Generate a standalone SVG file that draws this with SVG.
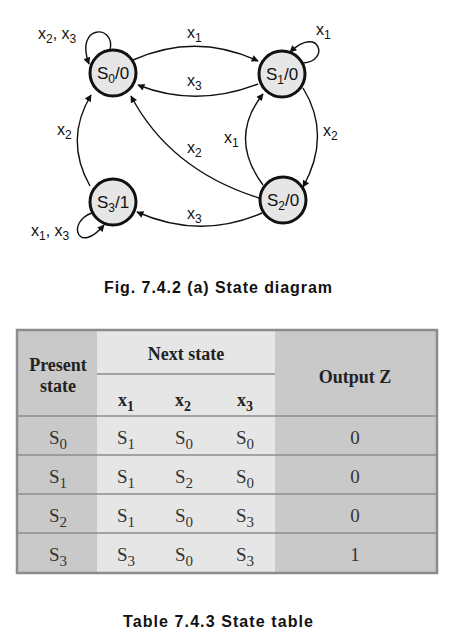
<svg xmlns="http://www.w3.org/2000/svg" width="458" height="640" viewBox="0 0 458 640">
<style>
.node{fill:#e6e6e6;stroke:#111;stroke-width:3}
.nl{font-family:"Liberation Sans",Arial,sans-serif;font-size:17px;fill:#111;text-anchor:middle}
.el{font-family:"Liberation Sans",Arial,sans-serif;font-size:16px;fill:#111}
.edge{fill:none;stroke:#111;stroke-width:1.4;marker-end:url(#ah)}
.cap{font-family:"Liberation Sans",Arial,sans-serif;font-size:16px;font-weight:bold;fill:#111;text-anchor:middle}
.th{font-family:"Liberation Serif","Times New Roman",serif;font-size:18px;font-weight:bold;fill:#222;text-anchor:middle}
.td{font-family:"Liberation Serif","Times New Roman",serif;font-size:19px;fill:#333;text-anchor:middle}
.dk{fill:#c9c9c9}
.lt{fill:#e6e6e6}
.ln{stroke:#8c8c8c;stroke-width:1.5}
</style>
<defs>
<marker id="ah" viewBox="0 0 10 10" refX="9" refY="5" markerWidth="9" markerHeight="7" markerUnits="userSpaceOnUse" orient="auto"><path d="M0,0 L10,5 L0,10 z" fill="#111"/></marker>
</defs>
<rect width="458" height="640" fill="#fff"/>
<g id="connectors">
<path class="edge" d="M133,60 Q196,32 258,61"/>
<path class="edge" d="M258,84 Q196,108 138,85"/>
<path class="edge" d="M110,50 C116,24 74,24 89,64"/>
<path class="edge" d="M303,63 C330,62 320,24 290,52"/>
<path class="edge" d="M303,88 Q332,135 303,187"/>
<path class="edge" d="M263,185 Q228,138 263,94"/>
<path class="edge" d="M259,198 Q170,170 131,96"/>
<path class="edge" d="M262,213 Q200,240 137,212"/>
<path class="edge" d="M90,186 Q64,140 91,95"/>
<path class="edge" d="M92,213 C66,222 78,256 104,225"/>
<text class="el" x="38" y="39">x<tspan font-size="12" dy="4">2</tspan><tspan dy="-4">, x</tspan><tspan font-size="12" dy="4">3</tspan></text>
<text class="el" x="187" y="38">x<tspan font-size="12" dy="4">1</tspan></text>
<text class="el" x="187" y="86">x<tspan font-size="12" dy="4">3</tspan></text>
<text class="el" x="316" y="35">x<tspan font-size="12" dy="4">1</tspan></text>
<text class="el" x="57" y="135">x<tspan font-size="12" dy="4">2</tspan></text>
<text class="el" x="187" y="153">x<tspan font-size="12" dy="4">2</tspan></text>
<text class="el" x="224" y="143">x<tspan font-size="12" dy="4">1</tspan></text>
<text class="el" x="323" y="136">x<tspan font-size="12" dy="4">2</tspan></text>
<text class="el" x="187" y="219">x<tspan font-size="12" dy="4">3</tspan></text>
<text class="el" x="31" y="236">x<tspan font-size="12" dy="4">1</tspan><tspan dy="-4">, x</tspan><tspan font-size="12" dy="4">3</tspan></text>
</g>
<g id="S0"><circle class="node" cx="113" cy="73" r="23"/><text class="nl" x="113" y="79">S<tspan font-size="12" dy="4">0</tspan><tspan dy="-4">/0</tspan></text></g>
<g id="S1"><circle class="node" cx="282" cy="74" r="23"/><text class="nl" x="282" y="80">S<tspan font-size="12" dy="4">1</tspan><tspan dy="-4">/0</tspan></text></g>
<g id="S2"><circle class="node" cx="283" cy="200" r="23"/><text class="nl" x="283" y="206">S<tspan font-size="12" dy="4">2</tspan><tspan dy="-4">/0</tspan></text></g>
<g id="S3"><circle class="node" cx="113" cy="202" r="23"/><text class="nl" x="113" y="208">S<tspan font-size="12" dy="4">3</tspan><tspan dy="-4">/1</tspan></text></g>
<text class="cap" x="218" y="293" textLength="228" lengthAdjust="spacing">Fig. 7.4.2 (a) State diagram</text>
<g id="table">
<rect class="dk" x="17" y="330" width="80" height="243"/>
<rect class="lt" x="97" y="330" width="178" height="243"/>
<rect class="dk" x="275" y="330" width="162" height="243"/>
<line class="ln" x1="97" y1="374" x2="275" y2="374"/>
<line class="ln" x1="17" y1="416" x2="437" y2="416"/>
<line class="ln" x1="17" y1="455" x2="437" y2="455"/>
<line class="ln" x1="17" y1="494" x2="437" y2="494"/>
<line class="ln" x1="17" y1="533" x2="437" y2="533"/>
<rect x="17" y="330" width="420" height="243" fill="none" stroke="#8c8c8c" stroke-width="2.5"/>
<text class="th" x="58" y="371" font-size="17">Present</text>
<text class="th" x="58" y="392" font-size="17">state</text>
<text class="th" x="186" y="360">Next state</text>
<text class="th" x="355" y="383">Output Z</text>
<text class="th" x="126" y="406">x<tspan font-size="14" dy="5">1</tspan></text>
<text class="th" x="183" y="406">x<tspan font-size="14" dy="5">2</tspan></text>
<text class="th" x="245" y="406">x<tspan font-size="14" dy="5">3</tspan></text>
<text class="td" x="58" y="444">S<tspan font-size="15" dy="5">0</tspan></text>
<text class="td" x="126" y="444">S<tspan font-size="15" dy="5">1</tspan></text>
<text class="td" x="184" y="444">S<tspan font-size="15" dy="5">0</tspan></text>
<text class="td" x="245" y="444">S<tspan font-size="15" dy="5">0</tspan></text>
<text class="td" x="355" y="444">0</text>
<text class="td" x="58" y="483">S<tspan font-size="15" dy="5">1</tspan></text>
<text class="td" x="126" y="483">S<tspan font-size="15" dy="5">1</tspan></text>
<text class="td" x="184" y="483">S<tspan font-size="15" dy="5">2</tspan></text>
<text class="td" x="245" y="483">S<tspan font-size="15" dy="5">0</tspan></text>
<text class="td" x="355" y="483">0</text>
<text class="td" x="58" y="522">S<tspan font-size="15" dy="5">2</tspan></text>
<text class="td" x="126" y="522">S<tspan font-size="15" dy="5">1</tspan></text>
<text class="td" x="184" y="522">S<tspan font-size="15" dy="5">0</tspan></text>
<text class="td" x="245" y="522">S<tspan font-size="15" dy="5">3</tspan></text>
<text class="td" x="355" y="522">0</text>
<text class="td" x="58" y="561">S<tspan font-size="15" dy="5">3</tspan></text>
<text class="td" x="126" y="561">S<tspan font-size="15" dy="5">3</tspan></text>
<text class="td" x="184" y="561">S<tspan font-size="15" dy="5">0</tspan></text>
<text class="td" x="245" y="561">S<tspan font-size="15" dy="5">3</tspan></text>
<text class="td" x="355" y="561">1</text>
</g>
<text class="cap" x="218" y="627" textLength="190" lengthAdjust="spacing">Table 7.4.3 State table</text>
</svg>
